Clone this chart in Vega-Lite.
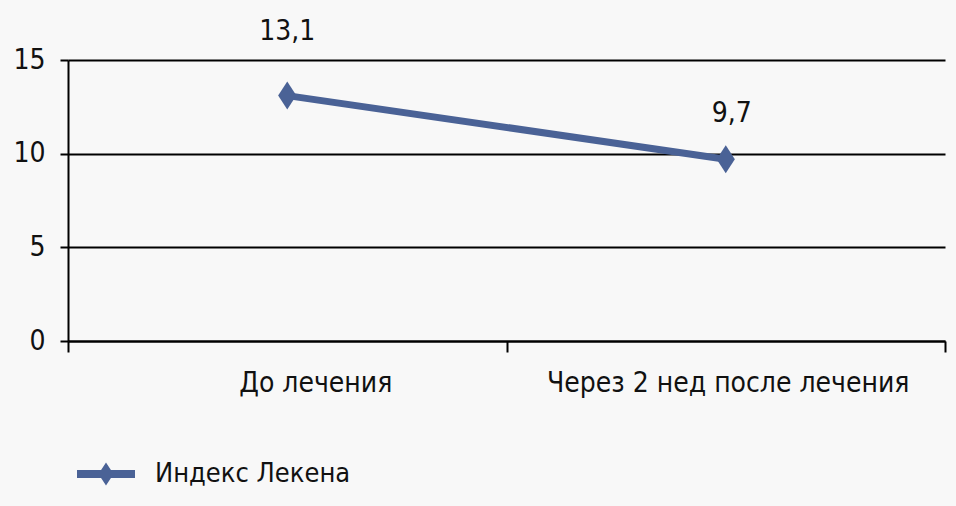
{
  "$schema": "https://vega.github.io/schema/vega-lite/v6.json",
  "autosize": "none",
  "width": 877,
  "height": 281,
  "padding": {"left": 68, "top": 60, "right": 11, "bottom": 165},
  "background": "#f8f8f8",
  "config": {
    "font": "DejaVu Sans Condensed, Liberation Sans, sans-serif",
    "view": {"stroke": null}
  },
  "data": {
    "values": [
      {"period": "До лечения", "value": 13.1, "label": "13,1", "series": "Индекс Лекена"},
      {"period": "Через 2 нед после лечения", "value": 9.7, "label": "9,7", "series": "Индекс Лекена"}
    ]
  },
  "encoding": {
    "x": {
      "field": "period", "type": "nominal", "sort": null,
      "scale": {"type": "band", "paddingInner": 0, "paddingOuter": 0},
      "axis": {
        "title": null, "labelAngle": 0, "labelFontSize": 28, "labelColor": "#111",
        "labelLimit": 0, "labelPadding": 17, "domainColor": "#000", "domainWidth": 2,
        "labelOffset": {"condition": {"test": "datum.value == 'До лечения'", "value": 28}, "value": 2},
        "tickColor": "#000", "tickWidth": 2, "tickSize": 11, "tickBand": "extent",
        "grid": false
      }
    },
    "y": {
      "field": "value", "type": "quantitative",
      "scale": {"domain": [0, 15], "nice": false},
      "axis": {
        "title": null, "values": [0, 5, 10, 15], "labelFontSize": 28, "labelColor": "#111",
        "labelPadding": 15, "domainColor": "#000", "domainWidth": 2,
        "tickColor": "#000", "tickWidth": 2, "tickSize": 8,
        "grid": true, "gridColor": "#000", "gridWidth": 2, "gridOpacity": 1
      }
    }
  },
  "layer": [
    {
      "mark": {"type": "line", "strokeWidth": 7},
      "encoding": {
        "color": {
          "field": "series", "type": "nominal",
          "scale": {"range": ["#4a6296"]},
          "legend": {
            "title": null, "orient": "none", "legendX": 9, "legendY": 385,
            "labelFontSize": 27, "labelColor": "#111", "labelOffset": 20, "labelLimit": 0,
            "symbolType": "M-1,-0.14L-0.17,-0.14L0,-0.4L0.17,-0.14L1,-0.14L1,0.14L0.17,0.14L0,0.4L-0.17,0.14L-1,0.14Z",
            "symbolSize": 3364, "symbolFillColor": "#4a6296", "symbolStrokeColor": "#4a6296",
            "symbolStrokeWidth": 0, "padding": 0
          }
        }
      }
    },
    {
      "mark": {
        "type": "point", "filled": true, "opacity": 1, "size": 784,
        "shape": "M0,-1L0.65,0L0,1L-0.65,0Z"
      },
      "encoding": {
        "color": {"field": "series", "type": "nominal", "legend": null}
      }
    },
    {
      "transform": [{"filter": "datum.value > 12"}],
      "mark": {"type": "text", "fontSize": 28, "dy": -64, "color": "#111"},
      "encoding": {"text": {"field": "label"}}
    },
    {
      "transform": [{"filter": "datum.value < 12"}],
      "mark": {"type": "text", "fontSize": 28, "dy": -45, "dx": 6, "color": "#111"},
      "encoding": {"text": {"field": "label"}}
    }
  ]
}
